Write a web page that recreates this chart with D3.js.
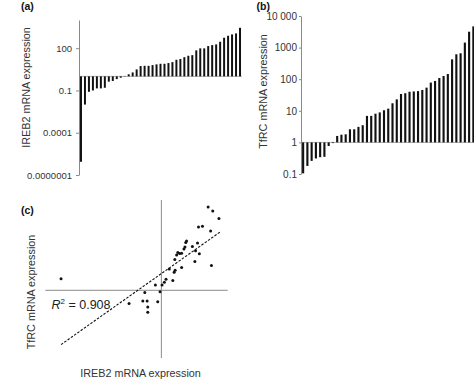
<!DOCTYPE html>
<html>
<head>
<meta charset="utf-8">
<script src="https://cdn.jsdelivr.net/npm/d3@7"></script>
<style>
  body { margin: 0; background: #fff; }
  svg { display: block; font-family: "Liberation Sans", Arial, sans-serif; }
  .axis path, .axis line { stroke: #8a8a8a; }
  .axis text { fill: #333; }
</style>
</head>
<body>
<div id="chart"></div>
<script>
// panel (a) and (b): one bar per sample, sorted
const ireb2Values = [8.7e-7, 0.01, 0.08, 0.1, 0.14, 0.14, 0.155, 0.42, 0.47, 0.64, 0.8, 0.95,
  1.4, 1.9, 3.1, 5.4, 5.6, 5.6, 6.3, 7.1, 7.8, 7.8, 8.8, 10.3, 15, 17, 23, 29, 32, 70,
  97, 97, 141, 166, 186, 285, 550, 760, 950, 1120, 2800];
const tfrcValues = [0.105, 0.18, 0.26, 0.31, 0.34, 0.35, 0.77, 0.95, 1.6, 1.75, 1.8, 2.6,
  2.6, 3.1, 3.5, 6.9, 6.9, 8.1, 8.9, 10.4, 11.7, 17.3, 23, 34, 36, 40, 41, 42, 45.6, 54,
  78, 88, 109, 126, 146, 425, 615, 660, 1440, 3180, 4700];

const ireb2Ticks = [100, 0.1, 0.0001, 0.0000001];
const ireb2TickLabels = ['100', '0.1', '0.0001', '0.0000001'];
const tfrcTicks = [10000, 1000, 100, 10, 1, 0.1];
const tfrcTickLabels = ['10 000', '1000', '100', '10', '1', '0.1'];

// panel (c): log10 expression per sample
const scatterIreb2Log = [-6.05, -1.95, -1.0, -1.12, -0.86, -0.82, -0.82, -0.22, -0.36, -0.08,
  0.04, 0.18, 0.28, 0.69, 0.48, 0.77, 0.83, 1.22, 0.81, 0.92, 0.99, 1.10, 1.22, 1.36, 1.42,
  1.47, 1.52, 1.87, 2.06, 2.29, 2.18, 2.02, 2.24, 2.48, 2.97, 3.02, 2.82, 3.10, 3.47];
const scatterTfrcLog = [0.51, -0.58, -0.10, -0.48, -0.48, -0.74, -0.97, -0.51, 0.23, -0.07,
  0.23, 0.36, 0.49, 0.43, 0.94, 0.80, 0.89, 1.01, 1.36, 1.56, 1.67, 1.63, 1.64, 1.83, 1.92,
  2.12, 2.18, 1.94, 1.75, 1.62, 2.09, 1.27, 2.80, 2.84, 2.63, 1.10, 3.69, 3.51, 3.18];
const fitSlope = 0.52;
const fitIntercept = 0.74;
const fitRange = [-6.05, 3.53];
const rSquared = '0.908';

const width = 474, height = 379;
const svg = d3.select('#chart').append('svg')
  .attr('width', width)
  .attr('height', height);

function barPanel(opts) {
  const idx = d3.range(opts.values.length);
  const x = d3.scaleBand().domain(idx).range(opts.xRange)
    .paddingInner(0.5).paddingOuter(0.25);
  const y = d3.scaleLog().domain(opts.yDomain).range(opts.yRange);

  // baseline at 1
  svg.append('line')
    .attr('x1', opts.xRange[0]).attr('x2', opts.xRange[1])
    .attr('y1', y(1)).attr('y2', y(1))
    .attr('stroke', '#b0b0b0').attr('stroke-width', 1);

  svg.append('g').selectAll('rect')
    .data(opts.values)
    .join('rect')
    .attr('x', (d, i) => x(i))
    .attr('width', x.bandwidth())
    .attr('y', d => Math.min(y(d), y(1)))
    .attr('height', d => Math.abs(y(d) - y(1)))
    .attr('fill', '#111');

  const axis = svg.append('g')
    .attr('class', 'axis')
    .attr('transform', `translate(${opts.xRange[0]},0)`)
    .call(d3.axisLeft(y)
      .tickValues(opts.ticks)
      .tickFormat((d, i) => opts.tickLabels[i])
      .tickSize(opts.tickSize)
      .tickPadding(opts.tickPadding)
      .tickSizeOuter(0));
  axis.selectAll('text').style('font-size', opts.tickFont + 'px');

  svg.append('text')
    .attr('transform', `translate(${opts.titleX},${opts.titleY}) rotate(-90)`)
    .attr('text-anchor', 'middle')
    .attr('fill', '#333')
    .style('font-size', '10.8px')
    .text(opts.title);

  svg.append('text')
    .attr('x', opts.tagX).attr('y', 9.5)
    .attr('fill', '#111')
    .style('font-size', '10.5px')
    .style('font-weight', 'bold')
    .text(opts.tag);
}

barPanel({
  values: ireb2Values,
  xRange: [79, 242],
  yDomain: [1e-7, 1e4],
  yRange: [175, 20],
  ticks: ireb2Ticks,
  tickLabels: ireb2TickLabels,
  tickSize: 3, tickPadding: 4, tickFont: 9.5,
  title: 'IREB2 mRNA expression',
  titleX: 29.5, titleY: 87.5,
  tag: '(a)', tagX: 21
});

barPanel({
  values: tfrcValues,
  xRange: [301, 475.5],
  yDomain: [0.1, 10000],
  yRange: [174, 16],
  ticks: tfrcTicks,
  tickLabels: tfrcTickLabels,
  tickSize: 2, tickPadding: 2, tickFont: 10,
  title: 'TfRC mRNA expression',
  titleX: 266.5, titleY: 91.5,
  tag: '(b)', tagX: 256.5
});

// panel (c) scatter
const sx = d3.scaleLog().domain([1e-7, 1e4]).range([45.3, 227.7]);
const sy = d3.scaleLog().domain([1e-3, 1e4]).range([358, 200]);
const pow = v => Math.pow(10, v);

svg.append('line')
  .attr('x1', sx.range()[0]).attr('x2', sx.range()[1])
  .attr('y1', sy(1)).attr('y2', sy(1))
  .attr('stroke', '#8a8a8a');
svg.append('line')
  .attr('x1', sx(1)).attr('x2', sx(1))
  .attr('y1', sy.range()[0]).attr('y2', sy.range()[1])
  .attr('stroke', '#8a8a8a');

svg.append('line')
  .attr('x1', sx(pow(fitRange[0]))).attr('y1', sy(pow(fitSlope * fitRange[0] + fitIntercept)))
  .attr('x2', sx(pow(fitRange[1]))).attr('y2', sy(pow(fitSlope * fitRange[1] + fitIntercept)))
  .attr('stroke', '#111')
  .attr('stroke-width', 1.1)
  .attr('stroke-dasharray', '2.5 1.5');

svg.append('g').selectAll('circle')
  .data(scatterIreb2Log)
  .join('circle')
  .attr('cx', d => sx(pow(d)))
  .attr('cy', (d, i) => sy(pow(scatterTfrcLog[i])))
  .attr('r', 1.5)
  .attr('fill', '#111');

const r2 = svg.append('text')
  .attr('x', 51.5).attr('y', 308.5)
  .attr('fill', '#222')
  .style('font-size', '12.5px');
r2.append('tspan').style('font-style', 'italic').text('R');
r2.append('tspan').attr('dy', -4.5).style('font-size', '8px').text('2');
r2.append('tspan').attr('dy', 4.5).text(' = ' + rSquared);

svg.append('text')
  .attr('transform', 'translate(35,292) rotate(-90)')
  .attr('text-anchor', 'middle')
  .attr('fill', '#333')
  .style('font-size', '10.8px')
  .text('TfRC mRNA expression');

svg.append('text')
  .attr('x', 140.5).attr('y', 376.5)
  .attr('text-anchor', 'middle')
  .attr('fill', '#333')
  .style('font-size', '10.8px')
  .text('IREB2 mRNA expression');

svg.append('text')
  .attr('x', 21).attr('y', 213.5)
  .attr('fill', '#111')
  .style('font-size', '10.5px')
  .style('font-weight', 'bold')
  .text('(c)');
</script>
</body>
</html>
